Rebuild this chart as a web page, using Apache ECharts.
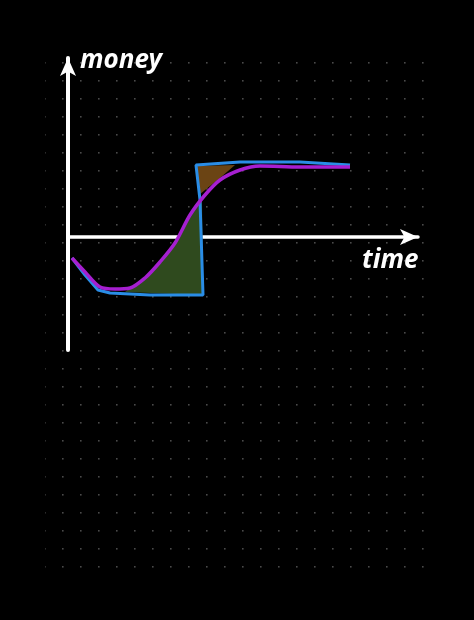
<!DOCTYPE html>
<html>
<head>
<meta charset="utf-8">
<script src="https://cdn.jsdelivr.net/npm/echarts@6/dist/echarts.min.js"></script>
<style>html,body{margin:0;background:#000;}#chart{width:474px;height:620px;}</style>
</head>
<body>
<div id="chart"></div>
<script>
// sketch data, time / money units
var blueLine = [[0.4,-2.1],[1.7,-3.8],[3,-5.3],[4.2,-5.6],[8.2,-5.8],[13.5,-5.8],[13.2,3.7],[12.8,7.2],[17.2,7.5],[23.2,7.5],[28.2,7.2]];
var purpleLine = [[0.4,-2.1],[1.7,-3.5],[3.2,-5],[4.7,-5.2],[6.2,-5.1],[7.7,-4.1],[9.2,-2.5],[10.7,-0.6],[12.2,2.2],[13.7,4.2],[15.2,5.7],[17.2,6.7],[19.2,7.1],[23.2,7],[28.2,7]];
var greenArea = [[5.7,-5.5],[13.5,-5.8],[13.4,3.7],[12.2,2.2],[10.7,-0.6],[9.2,-2.5],[7.7,-4.1],[6.2,-5.1]];
var brownArea = [[12.9,7.1],[16.7,7.2],[15.2,5.9],[13.7,4.7],[13.1,4.2]];

var chart = echarts.init(document.getElementById('chart'));

var dot = document.createElement('canvas');
dot.width = 18; dot.height = 18;
var ctx = dot.getContext('2d');
ctx.fillStyle = '#4a4a4a';
ctx.fillRect(8, 8, 1.6, 1.6);

function polygon(pts, color) {
    return {
        type: 'custom', z: 1, data: [0],
        renderItem: function (params, api) {
            return { type: 'polygon', shape: { points: pts.map(function (p) { return api.coord(p); }) }, style: { fill: color } };
        }
    };
}

var option = {
    backgroundColor: '#000',
    animation: false,
    graphic: [
        { type: 'rect', z: -10, shape: { x: 45, y: 55, width: 390, height: 515 }, style: { fill: { image: dot, repeat: 'repeat' } } },
        { type: 'text', left: 80, top: 48, style: { text: 'money', fill: '#fff', font: 'italic bold 26px "Noto Sans"' } },
        { type: 'text', left: 362, top: 248, style: { text: 'time', fill: '#fff', font: 'italic bold 26px "Noto Sans"' } }
    ],
    grid: { left: 68, top: 58, width: 350, bottom: 270 },
    xAxis: {
        type: 'value', min: 0, max: 35,
        axisLine: { onZero: true, lineStyle: { color: '#fff', width: 3.5 }, symbol: ['none', 'arrow'], symbolSize: [12, 18] },
        axisTick: { show: false }, axisLabel: { show: false }, splitLine: { show: false }
    },
    yAxis: {
        type: 'value', min: -11.3, max: 17.9,
        axisLine: { show: true, onZero: false, lineStyle: { color: '#fff', width: 4 }, symbol: ['none', 'arrow'], symbolSize: [12, 18] },
        axisTick: { show: false }, axisLabel: { show: false }, splitLine: { show: false }
    },
    series: [
        polygon(greenArea, '#2f4a1e'),
        polygon(brownArea, '#6b4414'),
        { type: 'line', data: blueLine, symbol: 'none', lineStyle: { color: '#2a8de6', width: 3 }, z: 3 },
        { type: 'line', data: purpleLine, symbol: 'none', smooth: 0.3, lineStyle: { color: '#a61fd0', width: 3.5 }, z: 4 }
    ]
};
chart.setOption(option);
</script>
</body>
</html>
